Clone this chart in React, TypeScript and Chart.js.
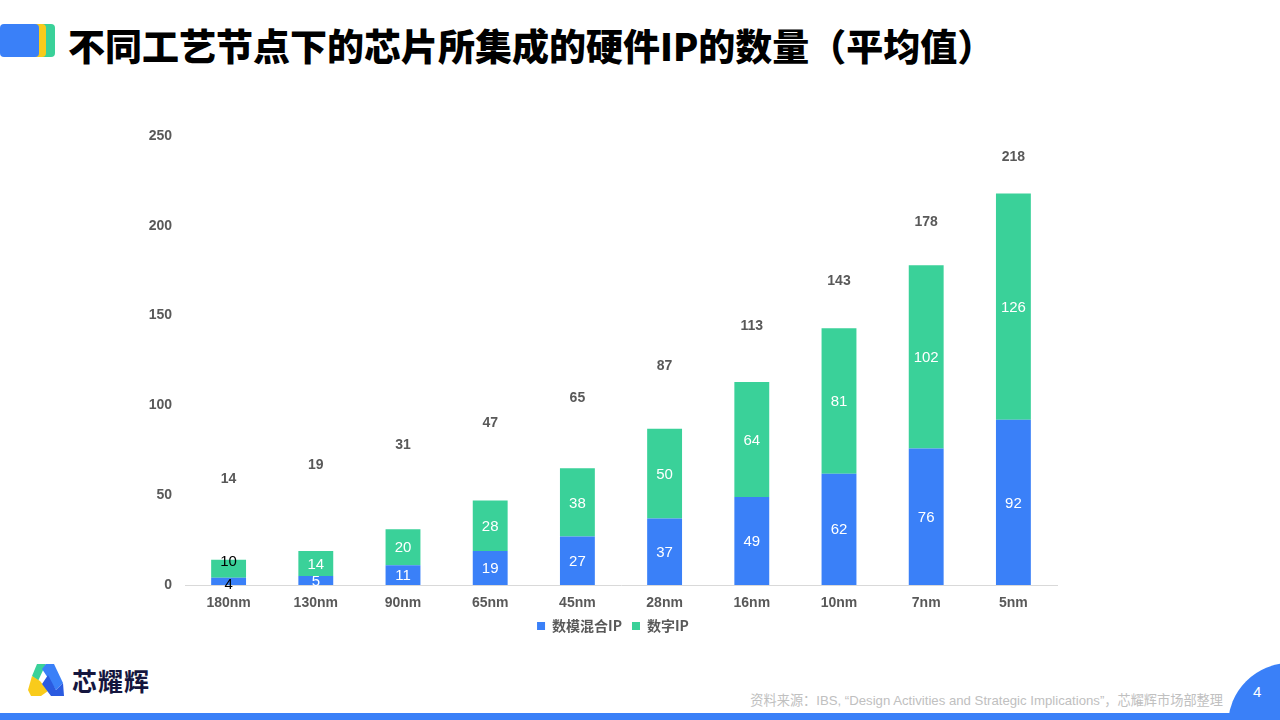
import React, { useEffect, useRef } from "react";
import { Chart, registerables } from "chart.js";

Chart.register(...registerables);

// Process nodes and average hardware IP counts per chip
const nodes = ["180nm", "130nm", "90nm", "65nm", "45nm", "28nm", "16nm", "10nm", "7nm", "5nm"];
const mixedSignalIP = [4, 5, 11, 19, 27, 37, 49, 62, 76, 92];
const digitalIP = [10, 14, 20, 28, 38, 50, 64, 81, 102, 126];
const totalIP = [14, 19, 31, 47, 65, 87, 113, 143, 178, 218];
const yTicks = [0, 50, 100, 150, 200, 250];

// How far (in axis units) each total label floats above its bar
const totalLabelLift = [45, 48, 47, 43, 39, 35, 31, 26, 24, 20];

const BLUE = "#3A80F8";
const GREEN = "#3AD199";
const GREY = "#595959";
const NUM_FONT = "'Liberation Sans', Arial, sans-serif";
const CJK_FONT = "'Noto Sans CJK SC', 'Liberation Sans', sans-serif";

const barLabelPlugin = {
  id: "barLabels",
  afterDatasetsDraw(chart: any) {
    const ctx = chart.ctx;
    ctx.save();
    ctx.textAlign = "center";
    ctx.textBaseline = "middle";
    ctx.font = `15px ${NUM_FONT}`;
    chart.data.datasets.forEach((ds: any, di: number) => {
      const meta = chart.getDatasetMeta(di);
      meta.data.forEach((bar: any, i: number) => {
        let cy = (bar.y + bar.base) / 2 + 1;
        // the thin 180nm segments get dark labels nudged off the segment centre
        if (i === 0) cy += di === 0 ? 2 : -8;
        ctx.fillStyle = i === 0 ? "#000000" : "#FFFFFF";
        ctx.fillText(String(ds.data[i]), bar.x, cy);
      });
    });
    // totals above each stack
    const yScale = chart.scales.y;
    const meta0 = chart.getDatasetMeta(0);
    ctx.font = `bold 14px ${NUM_FONT}`;
    ctx.fillStyle = GREY;
    totalIP.forEach((t, i) => {
      const x = meta0.data[i].x;
      const y = yScale.getPixelForValue(t + totalLabelLift[i]);
      ctx.fillText(String(t), x, y);
    });
    ctx.restore();
  },
};

// centre the legend under the plotting area rather than the whole canvas
const legendShiftPlugin = {
  id: "legendShift",
  afterLayout(chart: any) {
    const lg = chart.legend;
    if (!lg) return;
    const dx = ((chart.chartArea.left + chart.chartArea.right) - (lg.left + lg.right)) / 2 - 8;
    lg.left += dx;
    lg.right += dx;
  },
};

function IPChart() {
  const ref = useRef<HTMLCanvasElement | null>(null);
  useEffect(() => {
    if (!ref.current) return;
    const chart = new Chart(ref.current, {
      type: "bar",
      data: {
        labels: nodes,
        datasets: [
          {
            label: "数模混合IP",
            data: mixedSignalIP,
            backgroundColor: BLUE,
            barPercentage: 0.4,
            categoryPercentage: 1,
          },
          {
            label: "数字IP",
            data: digitalIP,
            backgroundColor: GREEN,
            barPercentage: 0.4,
            categoryPercentage: 1,
          },
        ],
      },
      options: {
        responsive: false,
        animation: false,
        devicePixelRatio: 1,
        layout: { padding: { top: 26, right: 33, left: 0, bottom: 0 } },
        plugins: {
          tooltip: { enabled: false },
          legend: {
            position: "bottom",
            labels: {
              boxWidth: 8,
              boxHeight: 8,
              padding: 10,
              color: GREY,
              font: { family: CJK_FONT, size: 14, weight: "bold" },
            },
          },
        },
        scales: {
          x: {
            stacked: true,
            grid: { display: false, drawTicks: false },
            border: { display: true, color: "#D9D9D9", width: 1 },
            ticks: {
              color: GREY,
              padding: 10,
              font: { family: NUM_FONT, size: 14, weight: "bold" },
            },
            afterFit: (s: any) => {
              s.height = 24;
            },
          },
          y: {
            stacked: true,
            min: 0,
            max: 250,
            afterBuildTicks: (s: any) => {
              s.ticks = yTicks.map((v) => ({ value: v }));
            },
            grid: { display: false, drawTicks: false },
            border: { display: false },
            ticks: {
              color: GREY,
              padding: 13,
              font: { family: NUM_FONT, size: 14, weight: "bold" },
            },
            afterFit: (s: any) => {
              s.width = 55;
            },
          },
        },
      },
      plugins: [barLabelPlugin, legendShiftPlugin],
    });
    return () => chart.destroy();
  }, []);
  return (
    <canvas
      ref={ref}
      width={960}
      height={533}
      style={{ position: "absolute", left: 130, top: 110, width: 960, height: 533 }}
    />
  );
}

function Logo() {
  return (
    <div style={{ position: "absolute", left: 28, top: 662, display: "flex", alignItems: "center" }}>
      <svg width="36" height="32" viewBox="0 0 36 32">
        <polygon points="9,0 18,0 10,17 4,12" fill={GREEN} />
        <polygon points="18,0 26,0 35,19 28,26 14,5" fill={BLUE} />
        <polygon points="4,12 12,17 20,27 13,32 3,32 0,26" fill="#F9CB1B" />
        <polygon points="14,20 20,11 28,26 35,19 36,32 23,32" fill="#2B5BE0" />
      </svg>
      <span
        style={{
          marginLeft: 8,
          fontFamily: CJK_FONT,
          fontWeight: 700,
          fontSize: 25,
          color: "#14163E",
          letterSpacing: 1,
        }}
      >
        芯耀辉
      </span>
    </div>
  );
}

export default function App() {
  return (
    <div
      style={{
        position: "fixed",
        left: 0,
        top: 0,
        width: 1280,
        height: 720,
        background: "#FFFFFF",
        overflow: "hidden",
      }}
    >
      {/* title marker */}
      <div style={{ position: "absolute", left: 18, top: 24, width: 37, height: 33, background: GREEN, borderRadius: 4 }} />
      <div style={{ position: "absolute", left: 14, top: 24, width: 32, height: 33, background: "#F9CB1B", borderRadius: 4 }} />
      <div style={{ position: "absolute", left: 0, top: 24, width: 39, height: 33, background: BLUE, borderRadius: 4 }} />
      <div
        style={{
          position: "absolute",
          left: 68,
          top: 20,
          fontFamily: CJK_FONT,
          fontWeight: 900,
          fontSize: 37,
          lineHeight: "50px",
          color: "#000000",
          whiteSpace: "nowrap",
        }}
      >
        不同工艺节点下的芯片所集成的硬件IP的数量（平均值）
      </div>

      <IPChart />

      <Logo />

      <div
        style={{
          position: "absolute",
          right: 57,
          top: 690,
          fontFamily: "'Liberation Sans', 'Noto Sans CJK SC', sans-serif",
          fontSize: 13.2,
          color: "#C0C0C0",
          whiteSpace: "nowrap",
        }}
      >
        资料来源：IBS, “Design Activities and Strategic Implications”，芯耀辉市场部整理
      </div>

      {/* page badge and footer band */}
      <div
        style={{
          position: "absolute",
          left: 1228,
          top: 663,
          width: 124,
          height: 124,
          borderRadius: "50%",
          background: BLUE,
        }}
      />
      <div
        style={{
          position: "absolute",
          left: 1253,
          top: 683,
          fontFamily: NUM_FONT,
          fontSize: 15,
          color: "#FFFFFF",
        }}
      >
        4
      </div>
      <div style={{ position: "absolute", left: 0, top: 713, width: 1280, height: 7, background: BLUE }} />
    </div>
  );
}
